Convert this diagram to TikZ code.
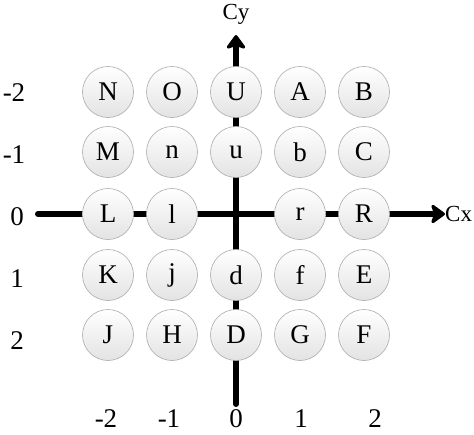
\documentclass[tikz,border=0pt]{standalone}
\usepackage{fontspec}
\setmainfont{Liberation Serif}
\usetikzlibrary{arrows.meta}
\tikzset{
  spot/.style={circle, draw=gray!65, line width=0.6pt, minimum size=51pt, inner sep=0pt,
    top color=white, bottom color=gray!22, font=\fontsize{27}{27}\selectfont},
  axis/.style={line width=6pt, line cap=round, -{Stealth[length=16pt,width=23pt,inset=4pt,round]}},
  ticklabel/.style={font=\fontsize{27}{27}\selectfont},
}
\begin{document}
\begin{tikzpicture}[x=1pt,y=-1pt]
\useasboundingbox (0,0) rectangle (474,434);
% axes, drawn first so the circles sit on top
\coordinate (xs) at (38,214);
\coordinate (xe) at (445,214);
\coordinate (ys) at (236,404);
\coordinate (ye) at (236,35);
\draw[axis] (xs) -- (xe);
\draw[axis] (ys) -- (ye);
\node[anchor=west, inner sep=0pt, font=\fontsize{23}{23}\selectfont] (cx) at (xe) {Cx};
\node[font=\fontsize{23}{23}\selectfont] (cy) at (236,14) {Cy};
% row -2
\node[spot] (pN) at (108,92) {N};
\node[spot] (pO) at (172,92) {O};
\node[spot] (pU) at (236,92) {U};
\node[spot] (pA) at (300,92) {A};
\node[spot] (pB) at (364,92) {B};
% row -1
\node[spot] (pM) at (108,152) {M};
\node[spot] (pn) at (172,152) {n};
\node[spot] (pu) at (236,152) {u};
\node[spot] (pb) at (300,152) {b};
\node[spot] (pC) at (364,152) {C};
% row 0 (no circle at the origin)
\node[spot] (pL) at (108,214) {L};
\node[spot] (pl) at (172,214) {l};
\node[spot] (pr) at (300,214) {r};
\node[spot] (pR) at (364,214) {R};
% row 1
\node[spot] (pK) at (108,275) {K};
\node[spot] (pj) at (172,275) {j};
\node[spot] (pd) at (236,275) {d};
\node[spot] (pf) at (300,275) {f};
\node[spot] (pE) at (364,275) {E};
% row 2
\node[spot] (pJ) at (108,335) {J};
\node[spot] (pH) at (172,335) {H};
\node[spot] (pD) at (236,335) {D};
\node[spot] (pG) at (300,335) {G};
\node[spot] (pF) at (364,335) {F};
% row numbers on the left
\node[ticklabel] (ry1) at (14,93) {-2};
\node[ticklabel] (ry2) at (14,155) {-1};
\node[ticklabel] (ry3) at (17,217) {0};
\node[ticklabel] (ry4) at (17,279) {1};
\node[ticklabel] (ry5) at (17,341) {2};
% column numbers at the bottom
\node[ticklabel] (cx1) at (106,419) {-2};
\node[ticklabel] (cx2) at (169,419) {-1};
\node[ticklabel] (cx3) at (236,419) {0};
\node[ticklabel] (cx4) at (301,419) {1};
\node[ticklabel] (cx5) at (375,419) {2};
\end{tikzpicture}
\end{document}
